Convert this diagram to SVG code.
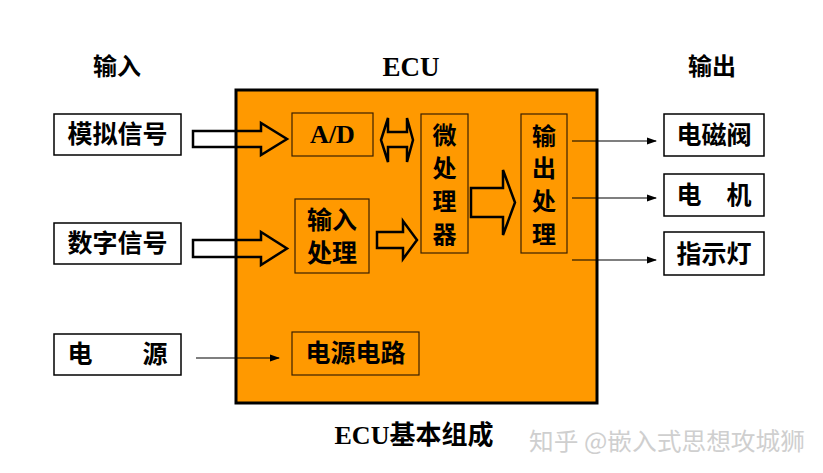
<svg xmlns="http://www.w3.org/2000/svg" width="823" height="473" viewBox="0 0 823 473">
<style>
.cn{font-family:"Noto Sans CJK SC","Noto Sans",sans-serif;font-weight:bold;fill:#000;}
.en{font-family:"Liberation Serif","Times New Roman",serif;font-weight:bold;fill:#000;}
.box{fill:#fff;stroke:#000;stroke-width:1.5;}
.ibox{fill:none;stroke:#3a2000;stroke-width:1.2;}
.hollow{fill:none;stroke:#000;stroke-width:2.5;stroke-linejoin:miter;}
.line{stroke:#000;stroke-width:1.2;fill:none;}
.wm{font-family:"Noto Sans CJK SC","Noto Sans",sans-serif;fill:#cfcfcf;}
</style>
<defs>
<marker id="ah" markerWidth="10" markerHeight="8" refX="9" refY="4" orient="auto" markerUnits="userSpaceOnUse">
<path d="M0,0.5 L10,4 L0,7.5 z" fill="#000"/>
</marker>
</defs>
<rect width="823" height="473" fill="#fff"/>

<text class="cn" x="117" y="75" font-size="24" text-anchor="middle">输入</text>
<text class="en" x="411" y="76" font-size="27" text-anchor="middle">ECU</text>
<text class="cn" x="712" y="75" font-size="24" text-anchor="middle">输出</text>

<g id="ecu">
<rect x="236" y="90" width="361" height="313" fill="#FF9900" stroke="#000" stroke-width="3"/>
</g>

<g id="in-analog">
<rect class="box" x="54" y="114" width="127" height="41"/>
<text class="cn" x="117.5" y="143" font-size="25" text-anchor="middle">模拟信号</text>
</g>
<g id="in-digital">
<rect class="box" x="54" y="223" width="127" height="41"/>
<text class="cn" x="117.5" y="252" font-size="25" text-anchor="middle">数字信号</text>
</g>
<g id="in-power">
<rect class="box" x="54" y="334" width="127" height="41"/>
<text class="cn" x="117.5" y="363" font-size="25" text-anchor="middle">电　　源</text>
</g>

<g id="ad">
<rect class="ibox" x="292" y="113" width="81" height="43"/>
<text class="en" x="332.5" y="143" font-size="26" text-anchor="middle">A/D</text>
</g>
<g id="inproc">
<rect class="ibox" x="295" y="199" width="74" height="74"/>
<text class="cn" x="332" y="229" font-size="25" text-anchor="middle">输入</text>
<text class="cn" x="332" y="262" font-size="25" text-anchor="middle">处理</text>
</g>
<g id="mcu">
<rect class="ibox" x="421" y="114" width="47" height="139"/>
<text class="cn" x="444.5" y="144" font-size="24" text-anchor="middle">微</text>
<text class="cn" x="444.5" y="177" font-size="24" text-anchor="middle">处</text>
<text class="cn" x="444.5" y="210" font-size="24" text-anchor="middle">理</text>
<text class="cn" x="444.5" y="243" font-size="24" text-anchor="middle">器</text>
</g>
<g id="outproc">
<rect class="ibox" x="521" y="114" width="46" height="139"/>
<text class="cn" x="544" y="145" font-size="24" text-anchor="middle">输</text>
<text class="cn" x="544" y="177" font-size="24" text-anchor="middle">出</text>
<text class="cn" x="544" y="210" font-size="24" text-anchor="middle">处</text>
<text class="cn" x="544" y="243" font-size="24" text-anchor="middle">理</text>
</g>
<g id="powercirc">
<rect class="ibox" x="292" y="332" width="127" height="43"/>
<text class="cn" x="355.5" y="362" font-size="25" text-anchor="middle">电源电路</text>
</g>

<g id="out-valve">
<rect class="box" x="664" y="114" width="100" height="42"/>
<text class="cn" x="714" y="144" font-size="25" text-anchor="middle">电磁阀</text>
</g>
<g id="out-motor">
<rect class="box" x="664" y="174" width="100" height="42"/>
<text class="cn" x="714" y="204" font-size="25" text-anchor="middle">电　机</text>
</g>
<g id="out-lamp">
<rect class="box" x="664" y="232" width="100" height="43"/>
<text class="cn" x="714" y="263" font-size="25" text-anchor="middle">指示灯</text>
</g>

<g id="connectors">
<polygon class="hollow" points="193,131 261,131 261,123 287,139 261,155 261,147 193,147"/>
<polygon class="hollow" points="193,240 261,240 261,232 287,248.5 261,265 261,257 193,257"/>
<polygon class="hollow" points="377,232 403,232 403,221 417,240 403,259 403,248 377,248"/>
<polygon class="hollow" points="381,140 388,118 388,132 407,132 407,118 413,140 407,162 407,147 388,147 388,162"/>
<polygon class="hollow" points="471,188 503,188 503,170 515,202.5 503,235 503,217 471,217"/>
<line class="line" x1="572" y1="141" x2="656" y2="141" marker-end="url(#ah)"/>
<line class="line" x1="572" y1="198" x2="656" y2="198" marker-end="url(#ah)"/>
<line class="line" x1="572" y1="260" x2="656" y2="260" marker-end="url(#ah)"/>
<line class="line" x1="196" y1="358" x2="279" y2="358" marker-end="url(#ah)"/>
</g>

<text x="414" y="444" font-size="26" text-anchor="middle"><tspan class="en">ECU</tspan><tspan class="cn">基本组成</tspan></text>
<text class="wm" x="529" y="450" font-size="24" textLength="276" lengthAdjust="spacingAndGlyphs">知乎 @嵌入式思想攻城狮</text>
</svg>
